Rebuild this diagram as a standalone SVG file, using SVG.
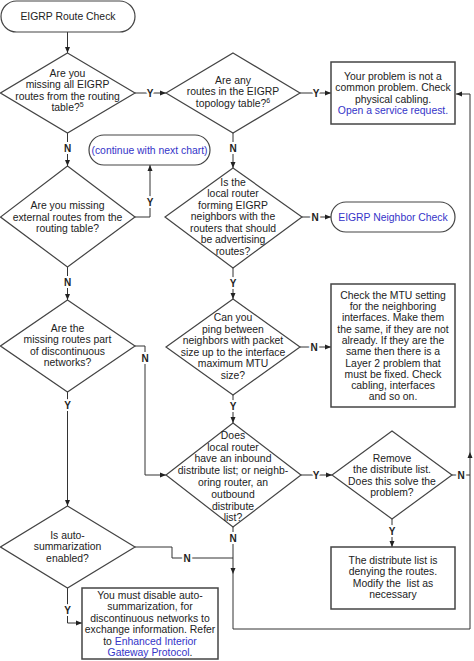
<svg xmlns="http://www.w3.org/2000/svg" width="474" height="661" viewBox="0 0 474 661">
<style>
text{font-family:"Liberation Sans",Arial,sans-serif;font-size:10.4px;fill:#222;text-anchor:middle}
.shape{fill:#fff;stroke:#444;stroke-width:1.2}
.box{fill:#fff;stroke:#444;stroke-width:1.5}
.link{fill:#3434c8}
.conn{fill:none;stroke:#333;stroke-width:1}
.lbl{font-size:10px;font-weight:bold;fill:#222;stroke:#fff;stroke-width:4;paint-order:stroke}
.sup{font-size:7px}
</style>
<defs>
<marker id="ah" markerWidth="6" markerHeight="6" refX="6" refY="3" orient="auto" markerUnits="userSpaceOnUse">
<path d="M0,0.5 L6,3 L0,5.5 z" fill="#222"/>
</marker>
</defs>
<rect width="474" height="661" fill="#fff"/>

<g id="connectors">
<path class="conn" d="M67.5,32 V53" marker-end="url(#ah)"/>
<path class="conn" d="M135,93 H166" marker-end="url(#ah)"/>
<path class="conn" d="M300,93 H331" marker-end="url(#ah)"/>
<path class="conn" d="M67.5,133 V166" marker-end="url(#ah)"/>
<path class="conn" d="M135,217 H150 V165" marker-end="url(#ah)"/>
<path class="conn" d="M233,133 V168" marker-end="url(#ah)"/>
<path class="conn" d="M302,217 H331" marker-end="url(#ah)"/>
<path class="conn" d="M233,268 V299" marker-end="url(#ah)"/>
<path class="conn" d="M300,347 H331" marker-end="url(#ah)"/>
<path class="conn" d="M233,395 V423" marker-end="url(#ah)"/>
<path class="conn" d="M67.5,267 V300" marker-end="url(#ah)"/>
<path class="conn" d="M135,346 H145 V475 H166" marker-end="url(#ah)"/>
<path class="conn" d="M67.5,392 V506" marker-end="url(#ah)"/>
<path class="conn" d="M301,475 H332" marker-end="url(#ah)"/>
<path class="conn" d="M392,519 V547" marker-end="url(#ah)"/>
<path class="conn" d="M452,475 H470"/>
<path class="conn" d="M233,527 V629 H470 V94 H456" marker-end="url(#ah)"/>
<path d="M467.5,458 L470,452 L472.5,458 z" fill="#222"/>
<path d="M230.5,568 L233,574 L235.5,568 z" fill="#222"/>
<path class="conn" d="M135,547 H172 V558 H233"/>
<path class="conn" d="M67.5,588 V623 H82" marker-end="url(#ah)"/>
<text class="lbl" x="150" y="96.5">Y</text>
<text class="lbl" x="316" y="96.5">Y</text>
<text class="lbl" x="67.5" y="151.5">N</text>
<text class="lbl" x="150" y="206">Y</text>
<text class="lbl" x="233" y="151.5">N</text>
<text class="lbl" x="315" y="220.5">N</text>
<text class="lbl" x="233" y="287">Y</text>
<text class="lbl" x="314" y="350.5">N</text>
<text class="lbl" x="233" y="410">Y</text>
<text class="lbl" x="67.5" y="286">N</text>
<text class="lbl" x="145" y="361.5">N</text>
<text class="lbl" x="67.5" y="409">Y</text>
<text class="lbl" x="316" y="478.5">Y</text>
<text class="lbl" x="392" y="534.5">Y</text>
<text class="lbl" x="461" y="478.5">N</text>
<text class="lbl" x="233" y="541.5">N</text>
<text class="lbl" x="187" y="561.5">N</text>
<text class="lbl" x="67.5" y="613.5">Y</text>
</g>

<g id="start">
<rect class="shape" x="1" y="1" width="134" height="31" rx="15.5"/>
<text x="68" y="20.2">EIGRP Route Check</text>
</g>

<g id="q-missing-all">
<polygon class="shape" points="67.5,53 135,93 67.5,133 0.5,93"/>
<text x="67.5" y="76.7">Are you</text>
<text x="67.5" y="88.2">missing all EIGRP</text>
<text x="67.5" y="99.7">routes from the routing</text>
<text x="67.5" y="111.2">table?<tspan class="sup" dy="-4">5</tspan></text>
</g>

<g id="q-topology">
<polygon class="shape" points="233,53 300,93 233,133 166,93"/>
<text x="233" y="83.7">Are any</text>
<text x="233" y="95.2">routes in the EIGRP</text>
<text x="233" y="106.7">topology table?<tspan class="sup" dy="-4">6</tspan></text>
</g>

<g id="not-common">
<rect class="box" x="331" y="62" width="124" height="62"/>
<text x="393" y="79.7">Your problem is not a</text>
<text x="393" y="91.2">common problem. Check</text>
<text x="393" y="102.7">physical cabling.</text>
<text x="393" y="114.2" class="link">Open a service request.</text>
</g>

<g id="continue">
<rect class="shape" x="89" y="135" width="121" height="30" rx="15"/>
<text x="149.5" y="153.7" class="link">(continue with next chart)</text>
</g>

<g id="q-external">
<polygon class="shape" points="67.5,166 135,217 67.5,267 0.5,217"/>
<text x="67.5" y="209.2">Are you missing</text>
<text x="67.5" y="220.7">external routes from the</text>
<text x="67.5" y="232.2">routing table?</text>
</g>

<g id="q-neighbors">
<polygon class="shape" points="233,168 302,217 233,268 165,217"/>
<text x="233" y="185.7">Is the</text>
<text x="233" y="197.2">local router</text>
<text x="233" y="208.7">forming EIGRP</text>
<text x="233" y="220.2">neighbors with the</text>
<text x="233" y="231.7">routers that should</text>
<text x="233" y="243.2">be advertising</text>
<text x="233" y="254.7">routes?</text>
</g>

<g id="neighbor-check">
<rect class="shape" x="331" y="202" width="124" height="30" rx="15"/>
<text x="393" y="220.7" class="link">EIGRP Neighbor Check</text>
</g>

<g id="q-ping">
<polygon class="shape" points="233,299 300,347 233,395 166,347"/>
<text x="233" y="321.2">Can you</text>
<text x="233" y="332.7">ping between</text>
<text x="233" y="344.2">neighbors with packet</text>
<text x="233" y="355.7">size up to the interface</text>
<text x="233" y="367.2">maximum MTU</text>
<text x="233" y="378.7">size?</text>
</g>

<g id="mtu">
<rect class="box" x="331" y="284" width="124" height="123"/>
<text x="393" y="298.7">Check the MTU setting</text>
<text x="393" y="310">for the neighboring</text>
<text x="393" y="321.3">interfaces. Make them</text>
<text x="393" y="332.6">the same, if they are not</text>
<text x="393" y="343.9">already. If they are the</text>
<text x="393" y="355.2">same then there is a</text>
<text x="393" y="366.5">Layer 2 problem that</text>
<text x="393" y="377.8">must be fixed. Check</text>
<text x="393" y="389.1">cabling, interfaces</text>
<text x="393" y="400.4">and so on.</text>
</g>

<g id="q-discontinuous">
<polygon class="shape" points="67.5,300 135,346 67.5,392 0.5,346"/>
<text x="67.5" y="331.7">Are the</text>
<text x="67.5" y="343.2">missing routes part</text>
<text x="67.5" y="354.7">of discontinuous</text>
<text x="67.5" y="366.2">networks?</text>
</g>

<g id="q-distribute">
<polygon class="shape" points="233,423 301,475 233,527 166,475"/>
<text x="233" y="438.7">Does</text>
<text x="233" y="450.5">local router</text>
<text x="233" y="462.3">have an inbound</text>
<text x="233" y="474.1">distribute list; or neighb-</text>
<text x="233" y="485.9">oring router, an</text>
<text x="233" y="497.7">outbound</text>
<text x="233" y="509.5">distribute</text>
<text x="233" y="521.3">list?</text>
</g>

<g id="q-remove">
<polygon class="shape" points="392,431 452,475 392,519 332,475"/>
<text x="392" y="461.7">Remove</text>
<text x="392" y="473.2">the distribute list.</text>
<text x="392" y="484.7">Does this solve the</text>
<text x="392" y="496.2">problem?</text>
</g>

<g id="denying">
<rect class="box" x="331" y="547" width="124" height="62"/>
<text x="393" y="563.7">The distribute list is</text>
<text x="393" y="575.2">denying the routes.</text>
<text x="393" y="586.7" xml:space="preserve">Modify the  list as</text>
<text x="393" y="598.2">necessary</text>
</g>

<g id="q-autosummary">
<polygon class="shape" points="67.5,506 135,547 67.5,588 0.5,547"/>
<text x="67.5" y="538.7">Is auto-</text>
<text x="67.5" y="550.2">summarization</text>
<text x="67.5" y="561.7">enabled?</text>
</g>

<g id="disable-auto">
<rect class="box" x="82" y="588" width="136" height="71"/>
<text x="150" y="598.7">You must disable auto-</text>
<text x="150" y="610.2">summarization, for</text>
<text x="150" y="621.7">discontinuous networks to</text>
<text x="150" y="633.2">exchange information. Refer</text>
<text x="150" y="644.7">to <tspan class="link">Enhanced Interior</tspan></text>
<text x="150" y="656.2"><tspan class="link">Gateway Protocol</tspan>.</text>
</g>
</svg>
